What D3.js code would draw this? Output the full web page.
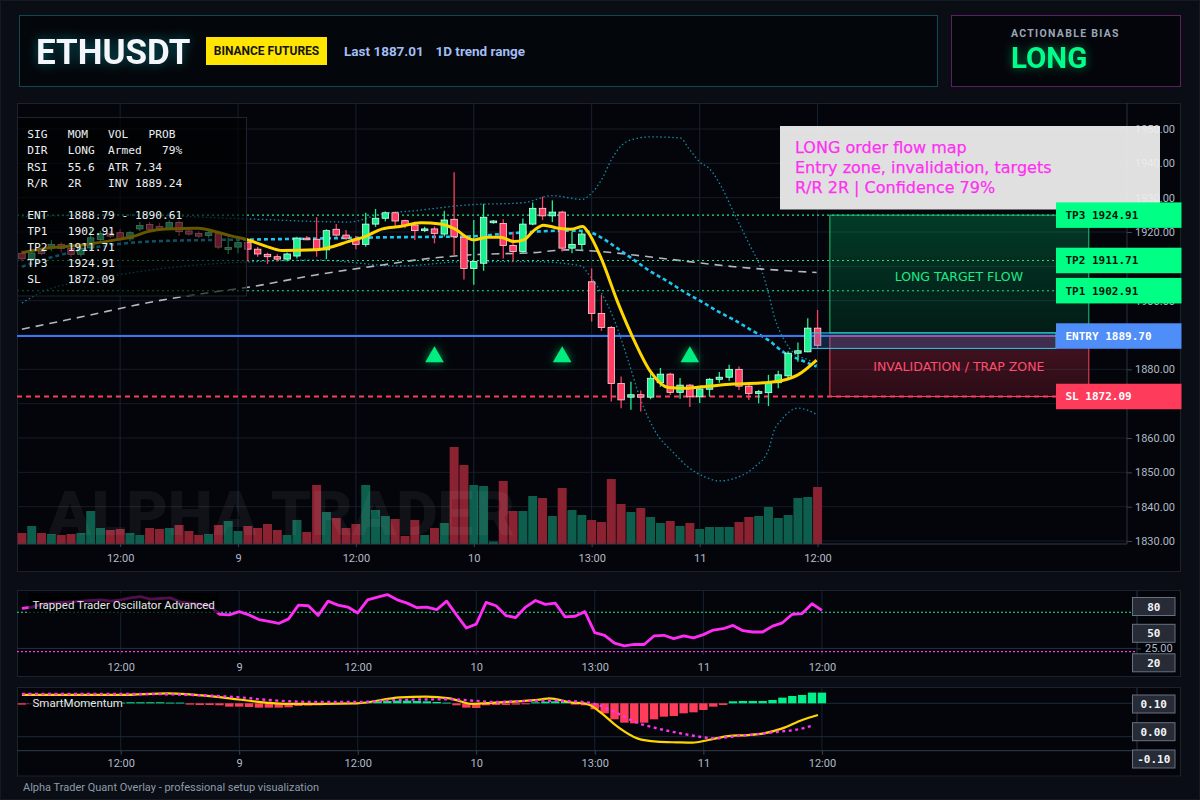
<!DOCTYPE html>
<html><head><meta charset="utf-8">
<script src="https://cdn.jsdelivr.net/npm/d3@7"></script>
<style>
html,body{margin:0;padding:0;background:#0a0d13;}
svg{display:block;}
</style></head><body>
<svg id="c" width="1200" height="800"></svg>
<script>
// ---------------- DATA ----------------
const symbol = "ETHUSDT";
const exchange = "BINANCE FUTURES";
const rangeLabel = "1D trend range";
const bias = "LONG";

const candleOpen = [1913.8,1912.2,1914.4,1915.6,1916.4,1915.2,1913.5,1915.4,1917.8,1919.6,
 1919.8,1918.0,1920.9,1922.2,1921.6,1921.1,1922.8,1920.3,1919.6,1919.0,
 1919.5,1914.9,1915.6,1916.9,1915.0,1913.5,1912.8,1912.1,1913.0,1918.2,
 1917.9,1914.8,1920.8,1919.1,1917.9,1916.4,1922.3,1924.0,1925.6,1923.3,
 1922.0,1920.4,1920.9,1919.4,1923.7,1918.5,1909.4,1910.9,1922.7,1922.5,
 1916.1,1914.3,1922.3,1926.9,1924.7,1925.8,1915.3,1916.4,1905.5,1896.3,
 1892.2,1875.9,1871.9,1872.6,1871.9,1876.1,1878.6,1873.3,1875.4,1872.0,
 1874.2,1877.1,1877.7,1880.0,1875.1,1873.0,1873.2,1876.1,1878.1,1884.7,
 1885.1,1892.0];
const candleHigh = [1914.6,1914.8,1915.2,1917.6,1917.0,1915.8,1915.8,1921.2,1920.4,1920.3,
 1920.9,1920.2,1922.9,1923.0,1922.6,1923.4,1923.3,1921.0,1920.2,1920.5,
 1920.4,1918.4,1917.8,1917.9,1915.6,1914.0,1913.5,1914.0,1918.6,1918.8,
 1924.3,1920.8,1922.3,1920.6,1918.8,1925.6,1926.7,1926.0,1926.0,1923.6,
 1923.0,1921.5,1921.6,1926.2,1937.4,1918.9,1923.5,1928.2,1923.5,1923.7,
 1920.1,1923.9,1928.6,1930.3,1929.2,1926.2,1920.1,1920.4,1909.4,1901.7,
 1892.6,1877.9,1876.4,1873.8,1878.9,1880.4,1879.0,1877.5,1875.7,1875.0,
 1877.5,1879.2,1881.3,1880.8,1875.7,1874.0,1878.4,1879.6,1885.3,1887.8,
 1894.9,1897.3];
const candleLow = [1911.4,1911.6,1913.2,1914.4,1914.0,1912.6,1912.9,1914.8,1916.9,1918.2,
 1917.2,1917.4,1920.3,1920.0,1920.4,1920.7,1918.8,1918.9,1918.2,1918.3,
 1915.0,1913.6,1913.8,1911.4,1912.8,1910.7,1911.4,1911.4,1912.3,1917.6,
 1912.8,1912.1,1918.6,1917.6,1915.0,1915.7,1921.5,1923.1,1921.5,1921.1,
 1917.7,1920.0,1916.7,1918.7,1913.3,1906.2,1904.6,1908.7,1922.4,1912.3,
 1911.4,1913.6,1922.0,1923.5,1922.9,1914.3,1913.8,1914.6,1893.9,1891.2,
 1870.6,1868.7,1868.2,1867.7,1871.3,1874.9,1872.5,1871.4,1869.0,1870.2,
 1872.0,1876.1,1876.7,1874.0,1871.1,1870.1,1869.3,1874.5,1876.8,1882.2,
 1885.0,1886.2];
const candleClose = [1912.2,1913.9,1913.7,1916.4,1915.2,1913.5,1915.3,1918.3,1919.6,1918.8,
 1917.9,1919.8,1921.9,1920.8,1921.0,1922.8,1920.1,1919.4,1918.8,1919.8,
 1915.6,1915.5,1916.9,1915.0,1913.6,1912.8,1912.1,1913.6,1918.2,1917.9,
 1915.0,1920.4,1919.1,1918.2,1916.4,1922.3,1924.0,1925.6,1923.2,1921.9,
 1920.4,1920.9,1919.6,1923.5,1918.6,1909.4,1911.4,1924.3,1923.2,1916.1,
 1914.3,1922.3,1926.9,1924.7,1925.8,1915.3,1916.4,1919.4,1896.3,1892.2,
 1875.9,1871.1,1872.6,1871.9,1877.4,1878.6,1873.3,1875.4,1872.0,1874.3,
 1877.1,1877.7,1880.0,1875.1,1873.0,1873.5,1876.1,1878.4,1884.7,1885.4,
 1892.0,1887.01];
const volume = [110,180,110,100,90,100,110,330,160,140,
 150,110,90,160,150,160,190,130,90,100,
 190,230,130,180,160,200,140,90,240,120,
 590,320,260,160,200,590,340,280,250,80,
 240,90,160,210,970,790,590,580,25,630,
 330,330,480,460,280,560,340,290,240,220,
 650,400,320,360,270,210,230,180,210,150,
 170,170,170,220,270,280,370,260,290,460,
 470,570];

const timeTickIndex = [10,22,34,46,58,69,81];
const timeTickLabel = ["12:00","9","12:00","10","13:00","11","12:00"];
const priceTicks = [1830,1840,1850,1860,1870,1880,1890,1900,1910,1920,1930,1940,1950];

// overlay lines: [candle index, price]
const emaLine = [[0,1914.0],[2.6,1915.3],[6.1,1916.2],[9.5,1917.7],[11.2,1918.6],[12.8,1920.1],[14.6,1920.9],[17.9,1921.1],[19.7,1920.1],[21.4,1918.8],[23,1917.7],[24.8,1915.9],[26.5,1914.6],[29.9,1914.8],[31.6,1915.7],[33.2,1917.2],[34.9,1918.6],[36.7,1920.9],[38.5,1921.6],[40.6,1922.7],[42.6,1922.3],[43.9,1921.1],[46,1917.7],[47.4,1918.5],[48.7,1918.5],[50.1,1917.2],[51.1,1917.7],[52.1,1920.4],[53.1,1922.0],[54.6,1921.1],[55.9,1920.8],[57.1,1921.6],[57.6,1920.1],[58.9,1912.8],[60.7,1899.2],[62.3,1888.6],[64,1879.3],[65.8,1874.7],[67.4,1874.5],[69.2,1874.9],[72.5,1875.7],[76,1876.2],[77.3,1876.7],[79,1878.4],[80.9,1882.7]];
const trendLine = [[0,1909.9],[2.6,1912.3],[6.1,1914.8],[12.8,1917.2],[19.7,1917.7],[23,1917.8],[38.5,1918.5],[45.4,1918.7],[48.8,1919.4],[52.2,1920.1],[55.6,1920.4],[57.3,1920.3],[58.9,1918.5],[60.6,1915.3],[62.3,1911.9],[64,1908.5],[65.8,1905.5],[67.4,1902.6],[69.2,1899.7],[70.9,1896.8],[72.5,1894.4],[74.2,1891.5],[76,1888.5],[77.6,1884.9],[79.3,1882.7],[80.9,1880.8]];
const slowLine = [[0,1891.7],[6.1,1895.3],[12.8,1899.4],[19.7,1902.6],[23,1903.9],[29.9,1907.5],[36.7,1910.4],[40,1911.8],[45.4,1913.3],[52.1,1914.0],[55.6,1914.8],[58.9,1914.3],[62.3,1913.3],[65.8,1912.1],[72.5,1909.9],[80.9,1908.2]];
const bandUpper = [[0,1924.4],[10,1925.0],[23,1923.8],[33.3,1922.9],[36.7,1925.3],[40,1926.2],[45.4,1927.9],[51,1928.5],[54,1930.6],[57,1929.5],[58,1931.3],[59,1935.2],[60,1941.0],[61,1945.1],[62,1946.8],[64,1947.7],[67,1947.4],[68,1943.9],[69,1940.4],[70,1938.4],[71.2,1933.2],[72.5,1925.5],[74,1916.7],[75.3,1908.9],[76,1902.2],[76.6,1895.3],[77.6,1888.6],[78.6,1884.7],[80.1,1882.7],[81,1881.2]];
const bandLower = [[0,1899.3],[2,1902.5],[7,1906.0],[13,1908.9],[23,1911.3],[30,1911.8],[38.5,1910.1],[45.4,1911.4],[52,1911.4],[57,1910.1],[57.6,1908.0],[59,1902.2],[60.3,1894.4],[61.7,1882.7],[63,1871.1],[64.4,1862.3],[66.4,1855.5],[67.8,1851.6],[69.5,1848.7],[71,1847.5],[73,1848.7],[74.6,1851.6],[76,1856.5],[76.6,1862.3],[77.3,1865.2],[79,1868.7],[81,1866.7]];

const signalIndex = [42,55,68];
const signalPrice = 1883.6;

const entryPrice = 1889.70, slPrice = 1872.09;
const entLow = 1888.79, entHigh = 1890.61;
const tp1 = 1902.91, tp2 = 1911.71, tp3 = 1924.91;
const entryBoxLow = 1886.1;
const invPrice = 1889.24, rsi = 55.6, atr = 7.34, prob = 79, rr = "2R";

const oscValues = [86,88,92,94,95,96,97,98,99,97, 99,102,104,100,101,102,96,94,92,90,
 77,76,81,76,69,66,63,70,91,90, 75,97,91,88,79,99,103,107,99,94,
 87,88,84,97,76,56,62,95,90,75, 72,88,98,92,94,73,74,81,49,45,
 33,29,31,31,44,45,40,44,41,46, 53,55,60,52,50,50,59,64,77,78, 93,83];
const oscLevels = [80,20];
const oscTicks = [25];
const oscBoxLabels = ["80","50","20"];

const momHist = [-0.004,-0.003,-0.002,-0.001,0.001,0.002,0.002,0.002,0.001,0.001,
 0.002,0.003,0.003,0.003,0.003,0.002,0.002,
 -0.004,-0.005,-0.005,-0.006,
 -0.010,-0.010,-0.011,-0.013,-0.013,-0.013,-0.012,
 -0.008,-0.007,-0.006,-0.004,-0.003,-0.002,-0.001,
 0.003,0.005,0.007,0.008,0.008,0.007,0.006,0.004,0.002,
 -0.006,-0.013,-0.014,
 -0.006,-0.005,-0.005,-0.004,-0.003,
 0.003,0.005,0.006,0.004,
 -0.004,-0.006,-0.018,
 -0.030,-0.048,-0.058,-0.060,-0.058,-0.048,-0.040,-0.038,-0.030,-0.027,-0.020,-0.010,-0.005,
 0.006,0.007,0.007,0.007,0.010,0.017,0.022,0.025,0.032,0.032];
const momFast = [[0,0.025],[10.1,0.025],[14.8,0.030],[20.2,0.018],[24.7,0.002],[26.9,-0.002],[33.9,0.0],[38.3,0.018],[40.9,0.020],[43.3,0.015],[45.6,-0.002],[47.9,0.002],[52.6,0.012],[53.4,0.015],[55.7,0.002],[56.9,0.0],[57.5,-0.005],[58.7,-0.030],[60.3,-0.070],[62.3,-0.105],[64.3,-0.115],[66.3,-0.117],[67.9,-0.118],[69.5,-0.110],[71.5,-0.098],[73.5,-0.095],[75.1,-0.090],[77,-0.075],[79,-0.050],[80.6,-0.035]];
const momSlow = [[0,0.028],[11.5,0.028],[17.3,0.025],[21.9,0.018],[25.8,0.008],[29.7,0.004],[33.9,0.004],[38.3,0.010],[43.3,0.012],[45.6,0.008],[47.9,0.004],[52.6,0.008],[55.7,0.006],[58,-0.002],[60.3,-0.030],[62.3,-0.058],[64.3,-0.075],[66.7,-0.090],[68.6,-0.100],[70.2,-0.105],[71.8,-0.100],[74.2,-0.093],[76.6,-0.085],[78.6,-0.078],[80,-0.067]];
const momTicks = [0,-0.1];
const momBoxLabels = ["0.10","0.00","-0.10"];

const overlayLines = ["LONG order flow map","Entry zone, invalidation, targets","R/R 2R | Confidence 79%"];
const footerText = "Alpha Trader Quant Overlay - professional setup visualization";

// ---------------- RENDER ----------------
const f2 = d3.format(".2f");
const UI = "Roboto, 'Liberation Sans', sans-serif";
const MONO = "'DejaVu Sans Mono', monospace";
const svg = d3.select("#c");
const defs = svg.append("defs");
function glow(id, std, color, op){
  const f = defs.append("filter").attr("id",id).attr("x","-50%").attr("y","-50%").attr("width","200%").attr("height","200%");
  f.append("feGaussianBlur").attr("in","SourceAlpha").attr("stdDeviation",std).attr("result","b");
  f.append("feFlood").attr("flood-color",color).attr("flood-opacity",op);
  f.append("feComposite").attr("in2","b").attr("operator","in").attr("result","g");
  const m = f.append("feMerge"); m.append("feMergeNode").attr("in","g"); m.append("feMergeNode").attr("in","SourceGraphic");
}
glow("tglow",6,"#00c8dc",0.45);
glow("gglow",5,"#00ff88",0.45);
glow("triglow",4,"#00ff88",0.55);
function vgrad(id, c1, o1, c2, o2){
  const g = defs.append("linearGradient").attr("id",id).attr("x1",0).attr("y1",0).attr("x2",0).attr("y2",1);
  g.append("stop").attr("offset","0%").attr("stop-color",c1).attr("stop-opacity",o1);
  g.append("stop").attr("offset","100%").attr("stop-color",c2).attr("stop-opacity",o2);
}
vgrad("gbox","#00d47a",0.26,"#00a860",0.15);
vgrad("rbox","#ff3c64",0.26,"#d02848",0.20);
defs.append("clipPath").attr("id","mainclip").append("rect").attr("x",17).attr("y",103).attr("width",1110).attr("height",441);

svg.append("rect").attr("x",0.5).attr("y",0.5).attr("width",1199).attr("height",799).attr("fill","#0a0d13").attr("stroke","#141a23");

// header
svg.append("rect").attr("x",19.5).attr("y",15.5).attr("width",918).attr("height",71).attr("fill","#03060a").attr("stroke","#0f4852");
svg.append("text").attr("x",36).attr("y",64).text(symbol).attr("font-family",UI).attr("font-weight",700).attr("font-size",35).attr("fill","#f3f6fa").attr("filter","url(#tglow)");
svg.append("rect").attr("x",206).attr("y",37).attr("width",121).attr("height",28).attr("fill","#ffe500");
svg.append("text").attr("x",266.5).attr("y",55).attr("text-anchor","middle").text(exchange).attr("font-family",UI).attr("font-weight",700).attr("font-size",12).attr("fill","#141414");
svg.append("text").attr("x",344).attr("y",56).text("Last " + f2(candleClose[candleClose.length-1])).attr("font-family",UI).attr("font-weight",700).attr("font-size",13.5).attr("fill","#a3bdf4");
svg.append("text").attr("x",435.5).attr("y",56).text(rangeLabel).attr("font-family",UI).attr("font-weight",700).attr("font-size",13.5).attr("fill","#a3bdf4");

svg.append("rect").attr("x",951.5).attr("y",15.5).attr("width",229).attr("height",71).attr("fill","#03050a").attr("stroke","#5e1f62");
svg.append("text").attr("x",1011).attr("y",37.3).text("ACTIONABLE BIAS").attr("font-family",UI).attr("font-weight",700).attr("font-size",10.5).attr("letter-spacing",1.3).attr("fill","#9ba5b7");
svg.append("text").attr("x",1011).attr("y",68.3).text(bias).attr("font-family",UI).attr("font-weight",700).attr("font-size",29.5).attr("fill","#00ff8a").attr("filter","url(#gglow)");

// ---- main panel ----
const x = d3.scaleLinear().domain([-0.5,112.5]).range([17,1127]);
const y = d3.scaleLinear().domain([1830,1950]).range([541,129]);
const vy = d3.scaleLinear().domain([0,1000]).range([544,444]);
const candles = candleOpen.map((o,i)=>({i,o,h:candleHigh[i],l:candleLow[i],c:candleClose[i],v:volume[i]}));

svg.append("rect").attr("x",17.5).attr("y",103.5).attr("width",1163).attr("height",468).attr("fill","#03050a").attr("stroke","#1a222d");
const main = svg.append("g");
const plot = main.append("g").attr("clip-path","url(#mainclip)");
// grid
plot.selectAll("line.hg").data(priceTicks).join("line").attr("x1",17).attr("x2",1127).attr("y1",d=>y(d)).attr("y2",d=>y(d)).attr("stroke","#151d28");
plot.selectAll("line.vg").data(timeTickIndex).join("line").attr("x1",d=>x(d)).attr("x2",d=>x(d)).attr("y1",103).attr("y2",544).attr("stroke","#172230");
// volume
plot.selectAll("rect.vol").data(candles).join("rect").attr("x",d=>x(d.i)-4.5).attr("width",9).attr("y",d=>vy(d.v)).attr("height",d=>544-vy(d.v)).attr("fill",d=>d.c>=d.o?"#0d5e4d":"#8a2232");
// watermark
plot.append("text").attr("x",48).attr("y",535).text("ALPHA TRADER").attr("font-family",UI).attr("font-weight",900).attr("font-size",62).attr("textLength",467).attr("lengthAdjust","spacingAndGlyphs").attr("fill","#ffffff").attr("fill-opacity",0.055);

const line = d3.line().x(d=>x(d[0])).y(d=>y(d[1])).curve(d3.curveMonotoneX);
plot.append("path").attr("d",line(bandUpper)).attr("fill","none").attr("stroke","#178ca6").attr("stroke-width",1.3).attr("stroke-dasharray","1.5,2.5");
plot.append("path").attr("d",line(bandLower)).attr("fill","none").attr("stroke","#178ca6").attr("stroke-width",1.3).attr("stroke-dasharray","1.5,2.5");
plot.append("path").attr("d",line(slowLine)).attr("fill","none").attr("stroke","#d4d8de").attr("stroke-opacity",0.85).attr("stroke-width",1.6).attr("stroke-dasharray","8,6");
plot.append("path").attr("d",line(trendLine)).attr("fill","none").attr("stroke","#1ec6f2").attr("stroke-width",2.6).attr("stroke-dasharray","4,3");

// level lines
const lvlRight = 1056;
[tp1,tp2,tp3].forEach(v=>{
  plot.append("line").attr("x1",17).attr("x2",lvlRight).attr("y1",y(v)).attr("y2",y(v)).attr("stroke","#1fe88a").attr("stroke-width",1.1).attr("stroke-dasharray","2,3");
});
plot.append("line").attr("x1",17).attr("x2",lvlRight).attr("y1",y(slPrice)).attr("y2",y(slPrice)).attr("stroke","#ff3d5a").attr("stroke-width",2).attr("stroke-dasharray","5,4");
plot.append("line").attr("x1",17).attr("x2",lvlRight).attr("y1",y(entryPrice)).attr("y2",y(entryPrice)).attr("stroke","#3478f6").attr("stroke-width",2);

// projection boxes
const px0 = x(82.2), px1 = x(108.56);
plot.append("rect").attr("x",px0+0.5).attr("y",y(tp3)).attr("width",px1-px0).attr("height",y(entHigh)-y(tp3)).attr("fill","url(#gbox)").attr("stroke","#1cc878").attr("stroke-width",1);
plot.append("rect").attr("x",px0+0.5).attr("y",y(entryPrice)).attr("width",px1-px0).attr("height",y(slPrice)-y(entryPrice)).attr("fill","url(#rbox)").attr("stroke","#ff4060").attr("stroke-width",1);
plot.append("text").attr("x",(px0+px1)/2).attr("y",(y(tp1)+y(tp2))/2+5).attr("text-anchor","middle").text("LONG TARGET FLOW").attr("font-family","'DejaVu Sans', sans-serif").attr("font-size",12.5).attr("fill","#1ee887");
plot.append("text").attr("x",(px0+px1)/2).attr("y",(y(entryPrice)+y(slPrice))/2+5).attr("text-anchor","middle").text("INVALIDATION / TRAP ZONE").attr("font-family","'DejaVu Sans', sans-serif").attr("font-size",12.5).attr("fill","#ff4d6d");

// candles
const cg = plot.selectAll("g.cdl").data(candles).join("g");
cg.append("line").attr("x1",d=>x(d.i)).attr("x2",d=>x(d.i)).attr("y1",d=>y(d.h)).attr("y2",d=>y(d.l)).attr("stroke",d=>d.c>=d.o?"#19f08e":"#ff3d62").attr("stroke-width",1.3);
cg.append("rect").attr("x",d=>x(d.i)-3.25).attr("width",6.5).attr("y",d=>y(Math.max(d.o,d.c))).attr("height",d=>Math.max(1.6,Math.abs(y(d.o)-y(d.c))))
  .attr("fill",d=>d.c>=d.o?"#19f08e":"#ff3d62").attr("stroke",d=>d.c>=d.o?"#d8fff0":"#ffd6de").attr("stroke-width",0.8);

// ema
plot.append("path").attr("d",line(emaLine)).attr("fill","none").attr("stroke","#ffd600").attr("stroke-width",3).attr("stroke-linejoin","round");

// signals
plot.selectAll("path.sig").data(signalIndex).join("path").attr("d",d3.symbol(d3.symbolTriangle,150)()).attr("transform",d=>`translate(${x(d)},${y(signalPrice)})`).attr("fill","#00ee80").attr("filter","url(#triglow)");

// entry zone box
const lastX = x(candles.length-1);
plot.append("rect").attr("x",lastX-6.5).attr("y",y(entHigh)).attr("width",lvlRight-(lastX-6.5)).attr("height",y(entryBoxLow)-y(entHigh)).attr("fill","#3c78c8").attr("fill-opacity",0.28).attr("stroke","#28cff0").attr("stroke-width",1);

// info box
main.append("rect").attr("x",17.5).attr("y",117.5).attr("width",229).attr("height",178.5).attr("fill","#000000").attr("fill-opacity",0.6).attr("stroke","#1d242e");
const infoRows = [
  "SIG   MOM   VOL   PROB",
  `DIR   ${bias}  Armed   ${prob}%`,
  `RSI   ${rsi}  ATR ${atr}`,
  `R/R   ${rr}    INV ${f2(invPrice)}`,
  "",
  `ENT   ${f2(entLow)} - ${f2(entHigh)}`,
  `TP1   ${f2(tp1)}`,
  `TP2   ${f2(tp2)}`,
  `TP3   ${f2(tp3)}`,
  `SL    ${f2(slPrice)}`];
main.selectAll("text.info").data(infoRows).join("text").attr("x",27.3).attr("y",(d,i)=>138.3+i*16.1).text(d=>d)
  .attr("font-family",MONO).attr("font-size",11.2).attr("fill","#eceef2").style("white-space","pre");

// right-side level labels (defined before axis so covered ticks can skip their text)
const rightLabels = [
  {t:"TP3", v:tp3, bg:"#00ff85", fg:"#04140b"},
  {t:"TP2", v:tp2, bg:"#00ff85", fg:"#04140b"},
  {t:"TP1", v:tp1, bg:"#00ff85", fg:"#04140b"},
  {t:"ENTRY", v:entryPrice, bg:"#4f8df9", fg:"#ffffff"},
  {t:"SL", v:slPrice, bg:"#ff3b5c", fg:"#ffffff"}];
const covered = t => rightLabels.some(r => Math.abs(y(r.v) - y(t)) < 8.5);

// axes
main.append("line").attr("x1",1127).attr("x2",1127).attr("y1",103).attr("y2",544).attr("stroke","#2a3441");
main.append("line").attr("x1",17).attr("x2",1127).attr("y1",544).attr("y2",544).attr("stroke","#323d4b");
const pAxis = main.append("g").attr("transform","translate(1127,0)").call(d3.axisRight(y).tickValues(priceTicks).tickFormat(d=>covered(d)?"":f2(d)).tickSize(5).tickPadding(3));
pAxis.select(".domain").remove();
pAxis.selectAll("line").attr("stroke","#3a4452");
pAxis.selectAll("text").attr("fill","#b0b9c5").attr("font-family",UI).attr("font-size",11);
const tAxis = main.append("g").attr("transform","translate(0,544)").call(d3.axisBottom(x).tickValues(timeTickIndex).tickFormat((d,i)=>timeTickLabel[i]).tickSize(3).tickPadding(7));
tAxis.select(".domain").remove();
tAxis.selectAll("line").attr("stroke","#3a4452");
tAxis.selectAll("text").attr("fill","#b4bcc8").attr("font-family",UI).attr("font-size",11);

// overlay text box
main.append("rect").attr("x",780).attr("y",126).attr("width",380).attr("height",83.5).attr("fill","#eeeeee").attr("fill-opacity",0.94);
main.selectAll("text.ov").data(overlayLines).join("text").attr("x",795).attr("y",(d,i)=>152.7+i*20.3).text(d=>d)
  .attr("font-family","'DejaVu Sans', sans-serif").attr("font-size",16).attr("fill","#ff30f2").attr("stroke","#ff30f2").attr("stroke-width",0.25);

// right labels
const rl = main.selectAll("g.rl").data(rightLabels).join("g").attr("transform",d=>`translate(1056,${y(d.v)})`);
rl.append("rect").attr("x",0).attr("y",-12.75).attr("width",125.5).attr("height",25.5).attr("fill",d=>d.bg);
rl.append("text").attr("x",9.5).attr("y",4).text(d=>`${d.t} ${f2(d.v)}`).attr("font-family",MONO).attr("font-weight",700).attr("font-size",11).attr("fill",d=>d.fg);

// ---- lower panels ----
const xl = d3.scaleLinear().domain([-0.5,112.5]).range([17,1133]);
function valueBoxes(g, labels, ys){
  const b = g.selectAll("g.vb").data(labels).join("g").attr("transform",(d,i)=>`translate(1132.5,${ys[i]})`);
  b.append("rect").attr("x",0).attr("y",-9).attr("width",42.5).attr("height",18).attr("fill","#262b36").attr("stroke","#687182");
  b.append("text").attr("x",21.25).attr("y",4).attr("text-anchor","middle").text(d=>d).attr("font-family",MONO).attr("font-weight",700).attr("font-size",11).attr("fill","#f2f4f8");
}

// oscillator panel
const osc = svg.append("g");
osc.append("rect").attr("x",17.5).attr("y",590.5).attr("width",1163).attr("height",86).attr("fill","#03050a").attr("stroke","#1a222d");
const oy = d3.scaleLinear().domain([20,80]).range([651.7,612.3]);
osc.selectAll("line.vg").data(timeTickIndex).join("line").attr("x1",d=>xl(d)).attr("x2",d=>xl(d)).attr("y1",591).attr("y2",655).attr("stroke","#172230");
osc.selectAll("line.hg").data(oscTicks).join("line").attr("x1",17).attr("x2",1137).attr("y1",d=>oy(d)).attr("y2",d=>oy(d)).attr("stroke","#223040");
osc.append("line").attr("x1",1137).attr("x2",1137).attr("y1",591).attr("y2",655).attr("stroke","#2a3441");
osc.append("line").attr("x1",17).attr("x2",1137).attr("y1",oy(oscLevels[0])).attr("y2",oy(oscLevels[0])).attr("stroke","#1fe88a").attr("stroke-width",1.1).attr("stroke-dasharray","2,2");
osc.append("line").attr("x1",17).attr("x2",1137).attr("y1",oy(oscLevels[1])).attr("y2",oy(oscLevels[1])).attr("stroke","#ff33f5").attr("stroke-width",1.3).attr("stroke-dasharray","2,2");
osc.append("path").attr("d",d3.line().x((d,i)=>xl(i)).y(d=>oy(d))(oscValues)).attr("fill","none").attr("stroke","#ff2cf3").attr("stroke-width",2.8).attr("stroke-linejoin","round");
osc.append("rect").attr("x",28.5).attr("y",593).attr("width",190).attr("height",20).attr("fill","#000").attr("fill-opacity",0.68);
osc.append("text").attr("x",32.5).attr("y",609).text("Trapped Trader Oscillator Advanced").attr("font-family",UI).attr("font-size",11.5).attr("fill","#e6e8ec");
const oAx = osc.append("g").attr("transform","translate(1137,0)").call(d3.axisRight(oy).tickValues(oscTicks).tickFormat(f2).tickSize(4).tickPadding(4));
oAx.select(".domain").remove(); oAx.selectAll("line").attr("stroke","#3a4452");
oAx.selectAll("text").attr("fill","#b0b9c5").attr("font-family",UI).attr("font-size",11);
const oT = osc.append("g").attr("transform","translate(0,655)").call(d3.axisBottom(xl).tickValues(timeTickIndex).tickFormat((d,i)=>timeTickLabel[i]).tickSize(0).tickPadding(8));
oT.select(".domain").remove();
oT.selectAll("text").attr("fill","#b4bcc8").attr("font-family",UI).attr("font-size",11);
valueBoxes(osc, oscBoxLabels, [606.5,633.3,662.8]);

// momentum panel
const mom = svg.append("g");
mom.append("rect").attr("x",17.5).attr("y",687.5).attr("width",1163).attr("height",88.5).attr("fill","#03050a").attr("stroke","#1a222d");
const my = d3.scaleLinear().domain([-0.1,0]).range([736.7,703.3]);
mom.selectAll("line.vg").data(timeTickIndex).join("line").attr("x1",d=>xl(d)).attr("x2",d=>xl(d)).attr("y1",688).attr("y2",750.7).attr("stroke","#172230");
mom.selectAll("line.hg").data(momTicks).join("line").attr("x1",17).attr("x2",1137).attr("y1",d=>my(d)).attr("y2",d=>my(d)).attr("stroke","#1e2a38");
mom.append("line").attr("x1",1137).attr("x2",1137).attr("y1",688).attr("y2",750.7).attr("stroke","#2a3441");
mom.selectAll("rect.h").data(momHist).join("rect").attr("x",(d,i)=>xl(i)-4.2).attr("width",8.4)
  .attr("y",d=>Math.min(my(0),my(d))).attr("height",d=>Math.max(0.8,Math.abs(my(d)-my(0)))).attr("fill",d=>d>=0?"#00f08a":"#ff3d5a");
const mline = d3.line().x(d=>xl(d[0])).y(d=>my(d[1])).curve(d3.curveMonotoneX);
mom.append("path").attr("d",mline(momFast)).attr("fill","none").attr("stroke","#ffd600").attr("stroke-width",2.2);
mom.append("path").attr("d",mline(momSlow)).attr("fill","none").attr("stroke","#ff33f5").attr("stroke-width",2.4).attr("stroke-dasharray","3,3.5");
mom.append("rect").attr("x",28.5).attr("y",696).attr("width",94).attr("height",14).attr("fill","#000").attr("fill-opacity",0.68);
mom.append("text").attr("x",32.5).attr("y",706.7).text("SmartMomentum").attr("font-family",UI).attr("font-size",11.5).attr("fill","#e6e8ec");
mom.append("line").attr("x1",17).attr("x2",1137).attr("y1",750.7).attr("y2",750.7).attr("stroke","#323d4b");
const mT = mom.append("g").attr("transform","translate(0,750.7)").call(d3.axisBottom(xl).tickValues(timeTickIndex).tickFormat((d,i)=>timeTickLabel[i]).tickSize(4).tickPadding(5));
mT.select(".domain").remove(); mT.selectAll("line").attr("stroke","#3a4452");
mT.selectAll("text").attr("fill","#b4bcc8").attr("font-family",UI).attr("font-size",11);
valueBoxes(mom, momBoxLabels, [704,731.7,759]);

svg.append("text").attr("x",23).attr("y",790.7).text(footerText).attr("font-family",UI).attr("font-size",11).attr("fill","#8d9bab");
</script>
</body></html>
